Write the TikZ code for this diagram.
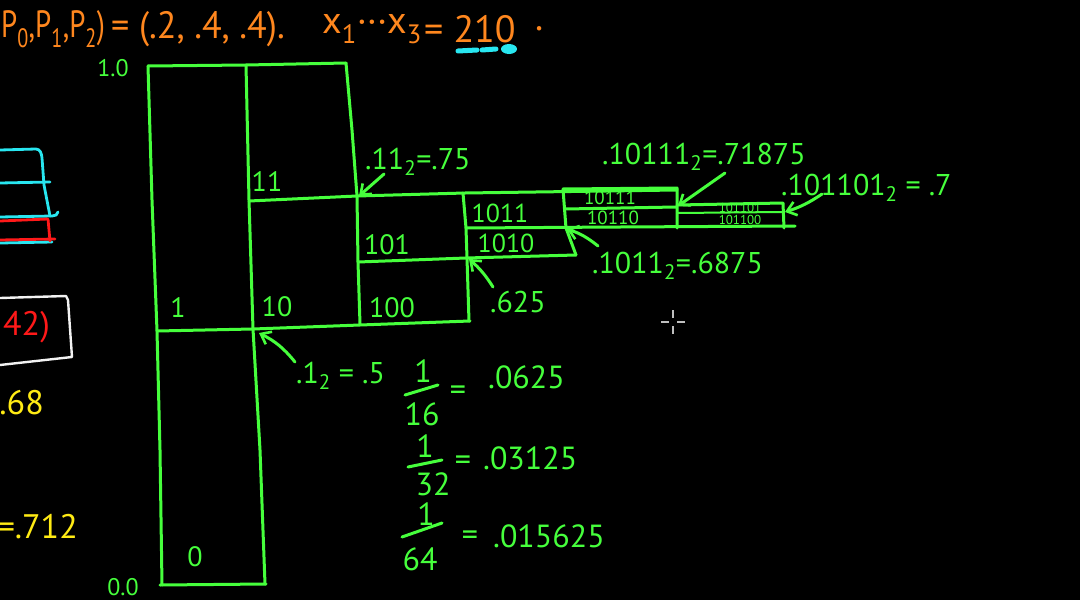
\documentclass[tikz,border=0pt]{standalone}
\usepackage{fontspec}
\setmainfont{PT Sans}
\usetikzlibrary{arrows.meta}
\definecolor{chalkgreen}{RGB}{70,255,60}
\definecolor{chalkorange}{RGB}{255,135,30}
\definecolor{chalkcyan}{RGB}{40,230,240}
\definecolor{chalkyellow}{RGB}{255,235,20}
\definecolor{chalkred}{RGB}{255,25,25}
\begin{document}
\begin{tikzpicture}[x=1pt,y=-1pt,
  pen/.style={draw=chalkgreen,line width=3pt,line cap=round,line join=round},
  arr/.style={pen,-{Straight Barb[length=9pt,width=14pt,line width=2.6pt]}},
  lab/.style={text=chalkgreen,font=\fontsize{28}{30}\selectfont,inner sep=0pt},
  smalllab/.style={text=chalkgreen,font=\fontsize{19}{20}\selectfont,inner sep=0pt},
  tinylab/.style={text=chalkgreen,font=\fontsize{13}{13}\selectfont,inner sep=0pt},
  ann/.style={text=chalkgreen,font=\fontsize{30}{32}\selectfont,inner sep=0pt},
  frac/.style={text=chalkgreen,font=\fontsize{32}{34}\selectfont,inner sep=0pt},
  hdr/.style={text=chalkorange,font=\fontsize{38}{40}\selectfont,inner sep=0pt},
  side/.style={font=\fontsize{34}{36}\selectfont,inner sep=0pt},
  cyanpen/.style={draw=chalkcyan,line width=2.8pt,line cap=round,line join=round},
  redpen/.style={draw=chalkred,line width=2.8pt,line cap=round,line join=round},
  whitepen/.style={draw=white!90!gray,line width=2.4pt,line cap=round,line join=round}]
\clip (0,0) rectangle (1080,600);
\fill[black] (0,0) rectangle (1080,600);

% ---------- header ----------
\node[hdr,anchor=west] (hp) at (1,29) {\scalebox{0.76}[1]{P\textsubscript{0},P\textsubscript{1},P\textsubscript{2})}};
\node[hdr,anchor=west] (hq) at (111,29) {\scalebox{0.95}[1]{= (.2, .4, .4).}};
\node[hdr,anchor=west] (hx) at (322,29) {x\textsubscript{1}\textperiodcentered\textperiodcentered\textperiodcentered x\textsubscript{3}};
\node[hdr,anchor=west] (heq) at (424,29) {= 210};
\node[hdr,anchor=west] (hdot) at (535,29) {.};
\coordinate (u1) at (458,51); \coordinate (u2) at (477,50);
\coordinate (u3) at (482,50); \coordinate (u4) at (496,49);
\draw[cyanpen,line width=5pt] (u1) -- (u2);
\draw[cyanpen,line width=5pt] (u3) -- (u4);
\fill[chalkcyan] (509,49) ellipse [x radius=8, y radius=5];

% ---------- left-edge remnants ----------
\draw[cyanpen] (0,150) -- (36,149) to[out=0,in=95] (42,158) -- (44,185) -- (50,216);
\draw[cyanpen] (0,183) -- (50,182);
\draw[cyanpen] (0,217) -- (52,216) to[out=0,in=-90] (58,212);
\draw[cyanpen] (0,243) -- (52,242);
\draw[redpen] (0,221) -- (48,219) -- (50,241);
\draw[redpen] (0,240) -- (55,239);
\draw[whitepen] (0,298) -- (66,296) -- (68,300) -- (72,357) -- (0,365);
\node[side,text=chalkred,anchor=east] (rtx) at (50,327) {42)};
\node[side,text=chalkyellow,anchor=east] (y68) at (44,403) {.68};
\node[side,text=chalkyellow,anchor=east] (y712) at (78,527) {=.712};

% ---------- interval boxes ----------
% outer column [0,1]
\draw[pen] (148,66) -- (246,65) -- (346,63);
\draw[pen] (148,66) -- (152,200) -- (157,331) -- (160,450) -- (162,585);
\draw[pen] (160,585) -- (266,584);
\draw[pen] (246,65) -- (249,200) -- (253,329) -- (260,450) -- (265,584);
\draw[pen] (157,331) -- (253,329) -- (360,325) -- (470,321);
% column [.5,1]
\draw[pen] (346,63) -- (352,130) -- (357,196) -- (358,262) -- (360,324);
\draw[pen] (249,201) -- (357,196) -- (465,193) -- (677,190);
% column [.5,.75]
\draw[pen] (358,262) -- (466,258) -- (576,255);
\draw[pen] (463,193) -- (466,228) -- (467,258) -- (469,321);
% column [.625,.75]
\draw[pen] (466,228) -- (620,227) -- (795,226);
\draw[pen] (566,228) -- (576,255);
% box [.6875,.75]
\draw[pen] (563,189) -- (677,188) -- (677,228);
\draw[pen] (563,189) -- (566,228);
\draw[pen] (565,209) -- (676,207);
% box [.6875,.71875]
\draw[pen] (677,205) -- (783,203) -- (784,228);
\draw[pen,line width=2pt] (677,213) -- (783,212);

% ---------- labels ----------
\node[text=chalkgreen,font=\fontsize{24}{26}\selectfont,inner sep=0pt] (l10) at (113,68) {1.0};
\node[text=chalkgreen,font=\fontsize{24}{26}\selectfont,inner sep=0pt] (l00) at (123,587) {0.0};
\node[lab] (b0) at (195,557) {0};
\node[lab] (b1) at (178,308) {1};
\node[lab] (b10) at (277,307) {10};
\node[lab] (b11) at (267,182) {11};
\node[lab] (b101) at (387,245) {101};
\node[lab] (b100) at (392,308) {100};
\node[lab,font=\fontsize{26}{28}\selectfont] (b1011) at (500,213) {1011};
\node[lab,font=\fontsize{26}{28}\selectfont] (b1010) at (506,243) {1010};
\node[smalllab] (b10111) at (610,198) {10111};
\node[smalllab] (b10110) at (613,218) {10110};
\node[tinylab] (b101101) at (740,208) {101101};
\node[tinylab] (b101100) at (740,220) {101100};

% ---------- annotations with arrows ----------
\node[ann,anchor=west] (t75) at (365,162) {.11\textsubscript{2}=.75};
\coordinate (p75) at (359,196);
\draw[arr] (384,174) -- (p75);

\node[ann,anchor=west] (t5) at (296,376) {.1\textsubscript{2} = .5};
\coordinate (p5) at (259,333);
\draw[arr] (295,362) to[bend right=12] (p5);

\node[ann,anchor=west] (t625) at (490,302) {.625};
\coordinate (p625) at (469,259);
\draw[arr] (493,287) to[bend right=8] (p625);

\node[ann,anchor=west] (t6875) at (592,266) {.1011\textsubscript{2}=.6875};
\coordinate (p6875) at (567,229);
\draw[arr] (598,246) to[bend right=10] (p6875);

\node[ann,anchor=west] (t71875) at (602,157) {.10111\textsubscript{2}=.71875};
\coordinate (p71875) at (678,206);
\draw[arr] (725,173) -- (p71875);

\node[ann,anchor=west] (t7) at (781,188) {.101101\textsubscript{2} = .7};
\coordinate (p7) at (785,212);
\draw[arr] (822,194) to[bend left=8] (p7);

% ---------- fractions ----------
\node[frac] (n16) at (423,371) {1};
\node[frac] (d16) at (422,414) {16};
\draw[pen] (405,395) -- (438,385);
\node[frac] (e16) at (458,393) {=};
\node[frac,anchor=west] (v16) at (488,377) {.0625};

\node[frac] (n32) at (425,446) {1};
\node[frac] (d32) at (433,484) {32};
\draw[pen] (408,467) -- (442,460);
\node[frac] (e32) at (463,463) {=};
\node[frac,anchor=west] (v32) at (483,458) {.03125};

\node[frac] (n64) at (426,514) {1};
\node[frac] (d64) at (420,559) {64};
\draw[pen] (402,537) -- (442,523);
\node[frac] (e64) at (470,538) {=};
\node[frac,anchor=west] (v64) at (493,536) {.015625};

% ---------- cursor ----------
\draw[white!75!black,line width=1.2pt] (661,322) -- (669,322) (677,322) -- (685,322)
  (673,310) -- (673,318) (673,326) -- (673,334);
\end{tikzpicture}
\end{document}
